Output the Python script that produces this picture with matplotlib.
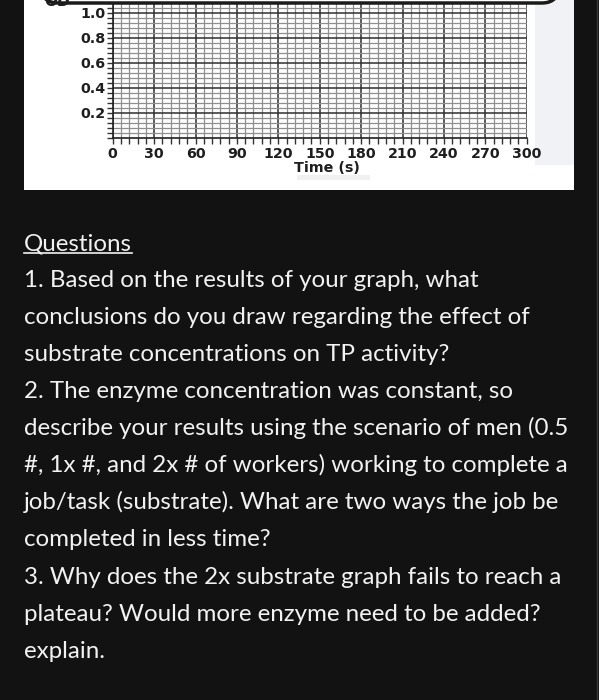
import matplotlib
matplotlib.use('Agg')
import matplotlib.pyplot as plt
from matplotlib.patches import Rectangle, FancyBboxPatch
from matplotlib.ticker import MultipleLocator

W, H = 599, 700
BG = '#121212'
FG = '#f2f2f2'

# axis values of the blank graph
x_ticks = [0, 30, 60, 90, 120, 150, 180, 210, 240, 270, 300]
y_ticks = [0.2, 0.4, 0.6, 0.8, 1.0]
x_minor_step = 6
y_minor_step = 0.04
x_label = 'Time (s)'
y_label = 'OD'

title = 'Questions'
lines = [
    '1. Based on the results of your graph, what',
    'conclusions do you draw regarding the effect of',
    'substrate concentrations on TP activity?',
    '2. The enzyme concentration was constant, so',
    'describe your results using the scenario of men (0.5',
    '#, 1x #, and 2x # of workers) working to complete a',
    'job/task (substrate). What are two ways the job be',
    'completed in less time?',
    '3. Why does the 2x substrate graph fails to reach a',
    'plateau? Would more enzyme need to be added?',
    'explain.',
]


def fx(px):
    return px / W


def fy(py):
    return 1 - py / H


fig = plt.figure(figsize=(W / 100, H / 100), dpi=100, facecolor=BG)

# white panel holding the graph
fig.patches.append(Rectangle((fx(24), fy(190)), fx(574) - fx(24), fy(0) - fy(190),
                             transform=fig.transFigure, facecolor='white',
                             edgecolor='none', zorder=-3))
fig.patches.append(Rectangle((fx(535), fy(165)), fx(574) - fx(535), fy(0) - fy(165),
                             transform=fig.transFigure, facecolor='#f1f2f6',
                             edgecolor='none', zorder=-2))
fig.patches.append(Rectangle((fx(297), fy(180)), fx(370) - fx(297), fy(175) - fy(180),
                             transform=fig.transFigure, facecolor='#f0f0f0',
                             edgecolor='none', zorder=-2))
fig.patches.append(FancyBboxPatch((fx(40), fy(3)), fx(560) - fx(40), 0.06,
                                  boxstyle='round,pad=0,rounding_size=0.03',
                                  transform=fig.transFigure, facecolor='white',
                                  edgecolor='#1a1a1a', linewidth=2.5, zorder=5))

# blank graph-paper axes
x0, x1 = 112.7, 526.7
ybot = 137.7
px_per_unit = 125.0
ax = fig.add_axes([fx(x0), fy(ybot), fx(x1) - fx(x0), ybot / H])
ax.set_zorder(2)
ax.set_facecolor('none')
ax.set_xlim(x_ticks[0], x_ticks[-1])
ax.set_ylim(0, ybot / px_per_unit)
ax.set_xticks(x_ticks)
ax.set_yticks(y_ticks)
ax.xaxis.set_minor_locator(MultipleLocator(x_minor_step))
ax.yaxis.set_minor_locator(MultipleLocator(y_minor_step))
ax.grid(which='minor', color='#8f8f8f', linewidth=0.9)
ax.grid(which='major', color='#2e2e2e', linewidth=1.1)
ax.set_axisbelow(True)
for s in ['top', 'right']:
    ax.spines[s].set_visible(False)
for s in ['left', 'bottom']:
    ax.spines[s].set_color('#222222')
    ax.spines[s].set_linewidth(1.2)
ax.tick_params(which='both', direction='out', length=4, width=1, color='#333333')
ax.tick_params(axis='x', pad=3)
ax.tick_params(axis='y', pad=1)
for lab in ax.get_xticklabels() + ax.get_yticklabels():
    lab.set_fontweight('bold')
    lab.set_fontsize(10.3)
    lab.set_color('#1e1e1e')

fig.text(fx(327), fy(168), x_label, ha='center', va='center',
         fontsize=10.3, fontweight='bold', color='#1e1e1e', zorder=6)
fig.text(fx(44), fy(6), y_label, ha='left', va='baseline',
         fontsize=11, fontweight='bold', color='#1e1e1e', zorder=6)

# questions text
FS = 17.4
t = fig.text(fx(24), fy(250), title, ha='left', va='baseline',
             fontsize=FS, family='Lato', color=FG)
fig.canvas.draw()
bb = t.get_window_extent()
fig.add_artist(plt.Line2D([bb.x0 / W, bb.x1 / W], [fy(253.5), fy(253.5)],
                          transform=fig.transFigure, color=FG, linewidth=1.2))

base, step = 287, 37.07
for i, line in enumerate(lines):
    fig.text(fx(24), fy(base + i * step), line, ha='left', va='baseline',
             fontsize=FS, family='Lato', color=FG)

# thin light edge on the right
fig.add_artist(plt.Line2D([fx(597), fx(597)], [0, 1], transform=fig.transFigure,
                          color='#3a3a3a', linewidth=1))

fig.savefig('out.png', dpi=100, facecolor=BG)
